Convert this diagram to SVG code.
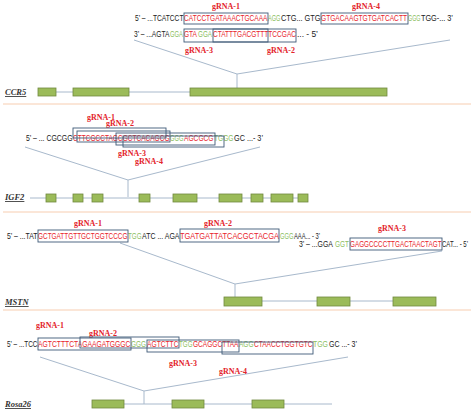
<svg xmlns="http://www.w3.org/2000/svg" width="474" height="413" viewBox="0 0 474 413">
<style>
.seq{font-family:"Liberation Sans",Arial,sans-serif;font-size:8.4px}
.k{fill:#222}
.r{fill:#e8232b}
.g{fill:#8cc063}
.lab{font-family:"Liberation Serif","Times New Roman",serif;font-size:8px;font-weight:bold;fill:#e3232b}
.gene{font-family:"Liberation Serif","Times New Roman",serif;font-size:8.5px;font-weight:bold;font-style:italic;fill:#333;text-decoration:underline}
.box{fill:none;stroke:#3e5a78;stroke-width:0.9}
.ex{fill:#9bbb59;stroke:#71893f;stroke-width:0.8}
.ln{stroke:#a8b9cc;stroke-width:1;fill:none}
.sep{stroke:#f7cdb0;stroke-width:1}
</style>
<rect width="474" height="413" fill="#fff"/>
<g id="separators">
<line class="sep" x1="3" y1="104" x2="471" y2="104"/>
<line class="sep" x1="3" y1="212" x2="471" y2="212"/>
<line class="sep" x1="3" y1="310" x2="471" y2="310"/>
</g>
<g id="connectors">
<polyline class="ln" points="134,40 237,74 450,40"/>
<line class="ln" x1="237" y1="74" x2="237" y2="88"/>
<polyline class="ln" points="25,147 128,180 260,147"/>
<line class="ln" x1="128" y1="180" x2="128" y2="197"/>
<polyline class="ln" points="120,243 235,284 442,251"/>
<line class="ln" x1="235" y1="284" x2="235" y2="297"/>
<polyline class="ln" points="40,357 144,391 348,357"/>
<line class="ln" x1="144" y1="391" x2="144" y2="404"/>
</g>
<g id="ccr5-seq">
<text class="lab" x="212" y="9">gRNA-1</text>
<text class="lab" x="352" y="9">gRNA-4</text>
<text class="seq k" x="135" y="21" textLength="48.5" lengthAdjust="spacingAndGlyphs">5’ – ...TCATCCT</text>
<text class="seq r" x="184" y="21" textLength="83.5" lengthAdjust="spacingAndGlyphs">CATCCTGATAAACTGCAAA</text>
<text class="seq g" x="268" y="21" textLength="12.5" lengthAdjust="spacingAndGlyphs">AGG</text>
<text class="seq k" x="281" y="21" textLength="39.5" lengthAdjust="spacingAndGlyphs">CTG... GTG</text>
<text class="seq r" x="321" y="21" textLength="86" lengthAdjust="spacingAndGlyphs">GTGACAAGTGTGATCACTT</text>
<text class="seq g" x="408" y="21" textLength="12.5" lengthAdjust="spacingAndGlyphs">GGG</text>
<text class="seq k" x="421" y="21" textLength="32" lengthAdjust="spacingAndGlyphs">TGG-... 3’</text>
<text class="seq k" x="134" y="37" textLength="35.5" lengthAdjust="spacingAndGlyphs">3’ – ...AGTA</text>
<text class="seq g" x="170" y="37" textLength="13" lengthAdjust="spacingAndGlyphs">GGA</text>
<text class="seq r" x="184" y="37" textLength="13" lengthAdjust="spacingAndGlyphs">GTA</text>
<text class="seq g" x="198" y="37" textLength="14" lengthAdjust="spacingAndGlyphs">GGA</text>
<text class="seq r" x="213" y="37" textLength="83" lengthAdjust="spacingAndGlyphs">CTATTTGACGTTTTCCGAC</text>
<text class="seq k" x="297" y="37" textLength="21" lengthAdjust="spacingAndGlyphs">... - 5’</text>
<rect class="box" x="184" y="13" width="84" height="11"/>
<rect class="box" x="321" y="13" width="87" height="11"/>
<rect class="box" x="184" y="29" width="84" height="13"/>
<rect class="box" x="213" y="29" width="83" height="13"/>
<text class="lab" x="185" y="53">gRNA-3</text>
<text class="lab" x="267" y="53">gRNA-2</text>
</g>
<g id="ccr5-gene">
<text class="gene" x="5" y="95">CCR5</text>
<line class="ln" x1="56" y1="92" x2="73" y2="92"/>
<line class="ln" x1="129" y1="92" x2="190" y2="92"/>
<rect class="ex" x="38" y="88" width="18" height="8"/>
<rect class="ex" x="73" y="88" width="56" height="8"/>
<rect class="ex" x="190" y="88" width="197" height="8"/>
</g>
<g id="igf2-seq">
<text class="lab" x="87" y="120">gRNA-1</text>
<text class="lab" x="106" y="126">gRNA-2</text>
<text class="seq k" x="26" y="141" textLength="46.5" lengthAdjust="spacingAndGlyphs">5’ – ... CGCGG</text>
<text class="seq r" x="73" y="141" textLength="96.5" lengthAdjust="spacingAndGlyphs">CTTCGCCTAGCGCTCACAGCG</text>
<text class="seq g" x="170" y="141" textLength="13.5" lengthAdjust="spacingAndGlyphs">GGG</text>
<text class="seq r" x="184" y="141" textLength="29.5" lengthAdjust="spacingAndGlyphs">AGCGCG</text>
<text class="seq g" x="214" y="141" textLength="19.5" lengthAdjust="spacingAndGlyphs">TGGG</text>
<text class="seq k" x="234" y="141" textLength="29" lengthAdjust="spacingAndGlyphs">GC ...- 3’</text>
<rect class="box" x="73" y="128" width="93" height="10"/>
<rect class="box" x="77" y="131" width="93" height="11"/>
<rect class="box" x="116" y="133" width="99" height="12"/>
<rect class="box" x="123" y="136" width="101" height="11"/>
<text class="lab" x="118" y="156">gRNA-3</text>
<text class="lab" x="135" y="164">gRNA-4</text>
</g>
<g id="igf2-gene">
<text class="gene" x="5" y="200">IGF2</text>
<line class="ln" x1="30" y1="198" x2="308" y2="198"/>
<rect class="ex" x="46" y="194" width="10" height="8"/>
<rect class="ex" x="73" y="194" width="10" height="8"/>
<rect class="ex" x="92" y="194" width="11" height="8"/>
<rect class="ex" x="139" y="194" width="11" height="8"/>
<rect class="ex" x="173" y="194" width="24" height="8"/>
<rect class="ex" x="219" y="194" width="23" height="8"/>
<rect class="ex" x="251" y="194" width="12" height="8"/>
<rect class="ex" x="271" y="194" width="22" height="8"/>
<rect class="ex" x="298" y="194" width="10" height="8"/>
</g>
<g id="mstn-seq">
<text class="lab" x="74" y="226">gRNA-1</text>
<text class="lab" x="204" y="226">gRNA-2</text>
<text class="lab" x="378" y="231">gRNA-3</text>
<text class="seq k" x="7" y="239" textLength="30.5" lengthAdjust="spacingAndGlyphs">5’ – ...TAT</text>
<text class="seq r" x="38" y="239" textLength="89.5" lengthAdjust="spacingAndGlyphs">GCTGATTGTTGCTGGTCCCG</text>
<text class="seq g" x="128" y="239" textLength="13.5" lengthAdjust="spacingAndGlyphs">TGG</text>
<text class="seq k" x="142" y="239" textLength="37.5" lengthAdjust="spacingAndGlyphs">ATC ... AGA</text>
<text class="seq r" x="180" y="239" textLength="99" lengthAdjust="spacingAndGlyphs">TGATGATTATCACGCTACGA</text>
<text class="seq g" x="280" y="239" textLength="13.5" lengthAdjust="spacingAndGlyphs">GGG</text>
<text class="seq k" x="294" y="239" textLength="26" lengthAdjust="spacingAndGlyphs">AAA... - 3’</text>
<text class="seq k" x="299" y="247" textLength="34" lengthAdjust="spacingAndGlyphs">3’ – ...GGA</text>
<text class="seq g" x="335" y="247" textLength="14" lengthAdjust="spacingAndGlyphs">GGT</text>
<text class="seq r" x="350" y="247" textLength="91.5" lengthAdjust="spacingAndGlyphs">GAGGCCCCTTGACTAACTAGT</text>
<text class="seq k" x="442" y="247" textLength="26" lengthAdjust="spacingAndGlyphs">CAT... - 5’</text>
<rect class="box" x="38" y="230" width="90" height="12"/>
<rect class="box" x="180" y="229" width="99" height="13"/>
<rect class="box" x="350" y="238" width="92" height="12"/>
</g>
<g id="mstn-gene">
<text class="gene" x="5" y="305">MSTN</text>
<line class="ln" x1="262" y1="301" x2="317" y2="301"/>
<line class="ln" x1="350" y1="301" x2="393" y2="301"/>
<rect class="ex" x="224" y="297" width="38" height="9"/>
<rect class="ex" x="317" y="297" width="33" height="9"/>
<rect class="ex" x="393" y="297" width="43" height="9"/>
</g>
<g id="rosa26-seq">
<text class="lab" x="36" y="328">gRNA-1</text>
<text class="lab" x="89" y="336">gRNA-2</text>
<text class="seq k" x="7" y="347" textLength="30.5" lengthAdjust="spacingAndGlyphs">5’ – ...TCC</text>
<text class="seq r" x="38" y="347" textLength="92.5" lengthAdjust="spacingAndGlyphs">AGTCTTTCTAGAAGATGGGC</text>
<text class="seq g" x="131" y="347" textLength="15" lengthAdjust="spacingAndGlyphs">GGG</text>
<text class="seq r" x="147" y="347" textLength="31.5" lengthAdjust="spacingAndGlyphs">AGTCTTC</text>
<text class="seq g" x="179" y="347" textLength="13.5" lengthAdjust="spacingAndGlyphs">TGG</text>
<text class="seq r" x="193" y="347" textLength="45.5" lengthAdjust="spacingAndGlyphs">GCAGGCTTAA</text>
<text class="seq g" x="239" y="347" textLength="14.5" lengthAdjust="spacingAndGlyphs">AGG</text>
<text class="seq r" x="254" y="347" textLength="58.5" lengthAdjust="spacingAndGlyphs">CTAACCTGGTGTC</text>
<text class="seq g" x="313" y="347" textLength="15" lengthAdjust="spacingAndGlyphs">TGG</text>
<text class="seq k" x="329" y="347" textLength="28" lengthAdjust="spacingAndGlyphs">GC ...- 3’</text>
<rect class="box" x="38" y="338" width="93" height="12"/>
<rect class="box" x="80" y="337" width="99" height="11"/>
<rect class="box" x="147" y="340" width="92" height="12"/>
<rect class="box" x="222" y="342" width="91" height="12"/>
<text class="lab" x="169" y="366">gRNA-3</text>
<text class="lab" x="219" y="374">gRNA-4</text>
</g>
<g id="rosa26-gene">
<text class="gene" x="5" y="407">Rosa26</text>
<line class="ln" x1="124" y1="404" x2="332" y2="404"/>
<rect class="ex" x="92" y="400" width="32" height="8"/>
<rect class="ex" x="172" y="400" width="32" height="8"/>
<rect class="ex" x="252" y="400" width="32" height="8"/>
</g>
</svg>
